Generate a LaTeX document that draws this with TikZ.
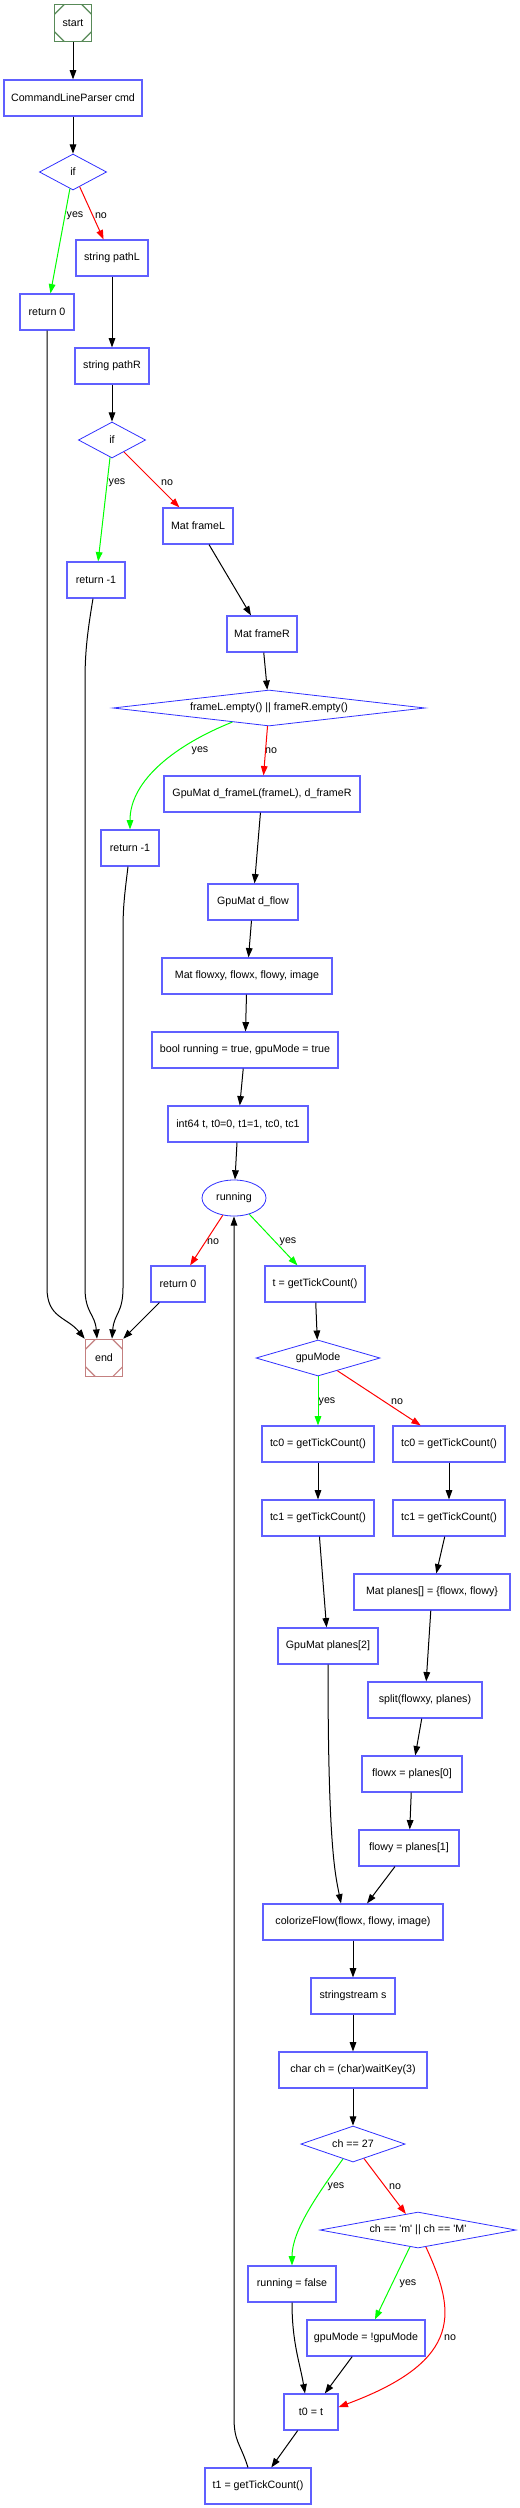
\documentclass[tikz,border=0pt]{standalone}
\usepackage{fontspec}
\setmainfont{Liberation Sans}
\usetikzlibrary{shapes.geometric,arrows.meta}
\definecolor{boxblue}{RGB}{96,96,255}
\definecolor{dmdblue}{RGB}{48,48,255}
\definecolor{startgreen}{RGB}{88,138,88}
\definecolor{endrose}{RGB}{196,128,128}

\begin{document}
\begin{tikzpicture}[x=0.75pt, y=-0.75pt,
    every node/.style={font=\fontsize{8pt}{9.6pt}\selectfont},
    box/.style={draw=boxblue, line width=0.9pt, rectangle, minimum height=27pt, inner sep=0pt},
    cond/.style={draw=dmdblue, line width=0.6pt, diamond, aspect=8, minimum height=27pt, inner sep=0pt},
    loopcond/.style={draw=dmdblue, line width=0.6pt, ellipse, minimum width=48pt, minimum height=27pt, inner sep=0pt},
    term/.style={draw=#1, line width=0.9pt, rectangle, minimum size=28pt, inner sep=0pt,
        path picture={
            \draw[#1] ([yshift=-7.5pt]path picture bounding box.north west) -- ([xshift=7.5pt]path picture bounding box.north west);
            \draw[#1] ([xshift=-7.5pt]path picture bounding box.north east) -- ([yshift=-7.5pt]path picture bounding box.north east);
            \draw[#1] ([yshift=7.5pt]path picture bounding box.south west) -- ([xshift=7.5pt]path picture bounding box.south west);
            \draw[#1] ([xshift=-7.5pt]path picture bounding box.south east) -- ([yshift=7.5pt]path picture bounding box.south east);
        }},
    arr/.style={-{Triangle[length=7pt,width=5pt]}, line width=0.75pt},
    yesarr/.style={arr, green},
    noarr/.style={arr, red},
    lbl/.style={inner sep=0pt}]
    \useasboundingbox (0,0) rectangle (520,2508);

    % setup
    \node[term=startgreen] (start) at (73,23) {start};
    \node[box, minimum width=103.5pt] (cmd) at (73,98) {CommandLineParser cmd};
    \node[cond, minimum width=40pt] (if1) at (73,172) {if};
    \node[box, minimum width=40.5pt] (ret0a) at (47,312) {return 0};
    \node[box, minimum width=54pt] (pathL) at (112,258) {string pathL};
    \node[box, minimum width=55.5pt] (pathR) at (112,366) {string pathR};
    \node[cond, minimum width=40.5pt] (if2) at (112,440) {if};
    \node[box, minimum width=43.5pt] (ret1a) at (96,580) {return -1};
    \node[box, minimum width=52.5pt] (frameL) at (198,526) {Mat frameL};
    \node[box, minimum width=52.5pt] (frameR) at (262,634) {Mat frameR};
    \node[cond, minimum width=234pt] (empty) at (269,708) {frameL.empty() || frameR.empty()};
    \node[box, minimum width=43.5pt] (ret1b) at (130,848) {return -1};
    \node[box, minimum width=147pt] (dframes) at (262,794) {GpuMat d\_frameL(frameL), d\_frameR};
    \node[box, minimum width=67.5pt] (dflow) at (253,902) {GpuMat d\_flow};
    \node[box, minimum width=127.5pt] (mats) at (247,976) {Mat flowxy, flowx, flowy, image};
    \node[box, minimum width=139.5pt] (flags) at (245,1050) {bool running = true, gpuMode = true};
    \node[box, minimum width=105pt] (ticks) at (238,1124) {int64 t, t0=0, t1=1, tc0, tc1};

    % main loop
    \node[loopcond] (running) at (234,1198) {running};
    \node[box, minimum width=40.5pt] (ret0b) at (178,1284) {return 0};
    \node[term=endrose] (endn) at (104,1358) {end};
    \node[box, minimum width=75pt] (tnow) at (315,1284) {t = getTickCount()};
    \node[cond, minimum width=78.75pt] (gpumode) at (318,1358) {gpuMode};
    \node[box, minimum width=84pt] (gtc0) at (318,1444) {tc0 = getTickCount()};
    \node[box, minimum width=84pt] (gtc1) at (318,1518) {tc1 = getTickCount()};
    \node[box, minimum width=75pt] (gplanes) at (328,1646) {GpuMat planes[2]};
    \node[box, minimum width=84pt] (ctc0) at (449,1444) {tc0 = getTickCount()};
    \node[box, minimum width=84pt] (ctc1) at (449,1518) {tc1 = getTickCount()};
    \node[box, minimum width=117pt] (cplanes) at (432,1592) {Mat planes[] = \{flowx, flowy\}};
    \node[box, minimum width=85.5pt] (split) at (425,1700) {split(flowxy, planes)};
    \node[box, minimum width=75pt] (flowx) at (412,1774) {flowx = planes[0]};
    \node[box, minimum width=75pt] (flowy) at (409,1848) {flowy = planes[1]};
    \node[box, minimum width=135pt] (colorize) at (353,1922) {colorizeFlow(flowx, flowy, image)};
    \node[box, minimum width=63pt] (sstream) at (353,1996) {stringstream s};
    \node[box, minimum width=111pt] (key) at (353,2070) {char ch = (char)waitKey(3)};
    \node[cond, minimum width=76.5pt] (esc) at (353,2144) {ch == 27};
    \node[cond, minimum width=147pt] (mkey) at (418,2230) {ch == \textquotesingle m\textquotesingle{} || ch == \textquotesingle M\textquotesingle};
    \node[box, minimum width=66pt] (stop) at (292,2284) {running = false};
    \node[box, minimum width=88.5pt] (toggle) at (366,2338) {gpuMode = !gpuMode};
    \node[box, minimum width=40.5pt] (t0) at (311,2412) {t0 = t};
    \node[box, minimum width=79.5pt] (t1) at (258,2486) {t1 = getTickCount()};

    % branch labels
    \node[lbl] (yes1) at (75,216) {yes};
    \node[lbl] (no1) at (101,216) {no};
    \node[lbl] (yes2) at (117,483) {yes};
    \node[lbl] (no2) at (167,483) {no};
    \node[lbl] (yes3) at (200,751) {yes};
    \node[lbl] (no3) at (271,751) {no};
    \node[lbl] (no4) at (213,1242) {no};
    \node[lbl] (yes4) at (288,1242) {yes};
    \node[lbl] (yes5) at (327,1402) {yes};
    \node[lbl] (no5) at (397,1402) {no};
    \node[lbl] (yes6) at (336,2187) {yes};
    \node[lbl] (no6) at (395,2187) {no};
    \node[lbl] (yes7) at (408,2284) {yes};
    \node[lbl] (no7) at (450,2338) {no};

    % bends
    \coordinate (bendA) at (47,1288);
    \coordinate (bendB1) at (85,680);
    \coordinate (bendB2) at (85,1288);
    \coordinate (bendC1) at (123,930);
    \coordinate (bendC2) at (123,1288);
    \coordinate (loopbend) at (234,2417);

    % edges
    \draw[arr] (start) -- (cmd);
    \draw[arr] (cmd) -- (if1);
    \draw[yesarr] (if1) -- (ret0a);
    \draw[noarr] (if1) -- (pathL);
    \draw[arr] (pathL) -- (pathR);
    \draw[arr] (pathR) -- (if2);
    \draw[yesarr] (if2) -- (ret1a);
    \draw[noarr] (if2) -- (frameL);
    \draw[arr] (frameL) -- (frameR);
    \draw[arr] (frameR) -- (empty);
    \draw[yesarr] (empty.201) .. controls +(-55,22) and +(0,-50) .. (ret1b.north);
    \draw[noarr] (empty) -- (dframes);
    \draw[arr] (dframes) -- (dflow);
    \draw[arr] (dflow) -- (mats);
    \draw[arr] (mats) -- (flags);
    \draw[arr] (flags) -- (ticks);
    \draw[arr] (ticks) -- (running);
    \draw[noarr] (running) -- (ret0b);
    \draw[yesarr] (running) -- (tnow);
    \draw[arr] (tnow) -- (gpumode);
    \draw[yesarr] (gpumode) -- (gtc0);
    \draw[noarr] (gpumode) -- (ctc0);
    \draw[arr] (gtc0) -- (gtc1);
    \draw[arr] (gtc1) -- (gplanes);
    \draw[arr] (ctc0) -- (ctc1);
    \draw[arr] (ctc1) -- (cplanes);
    \draw[arr] (cplanes) -- (split);
    \draw[arr] (split) -- (flowx);
    \draw[arr] (flowx) -- (flowy);
    \draw[arr] (gplanes.south) .. controls +(0,180) and +(-6,-30) .. ([xshift=-9pt]colorize.north);
    \draw[arr] (flowy) -- (colorize);
    \draw[arr] (colorize) -- (sstream);
    \draw[arr] (sstream) -- (key);
    \draw[arr] (key) -- (esc);
    \draw[yesarr] (esc.236) .. controls +(-25,35) and +(0,-35) .. (stop.north);
    \draw[noarr] (esc) -- (mkey);
    \draw[yesarr] (mkey) -- (toggle);
    \draw[noarr] (mkey.295) .. controls +(29,63) and +(127,-47) .. ([yshift=3.75pt]t0.east);
    \draw[arr] (stop.south) .. controls +(0,40) and +(-5,-30) .. ([xshift=-4.5pt]t0.north);
    \draw[arr] (toggle) -- (t0);
    \draw[arr] (t0) -- (t1);
    \draw[arr] ([xshift=-7.5pt]t1.north) .. controls +(-8,-25) and +(0,25) .. (loopbend) -- (running);

    % returns into end
    \draw[arr] (ret0a) -- (bendA) .. controls +(0,30) and +(-18,-22) .. (endn.north west);
    \draw[arr] ([xshift=-2.25pt]ret1a.south) .. controls +(-5,30) and +(0,-30) .. (bendB1) -- (bendB2) .. controls +(0,25) and +(-2,-25) .. ([xshift=-5.25pt]endn.north);
    \draw[arr] ([xshift=-1.5pt]ret1b.south) .. controls +(-3,25) and +(0,-25) .. (bendC1) -- (bendC2) .. controls +(0,25) and +(2,-25) .. ([xshift=6pt]endn.north);
    \draw[arr] (ret0b) -- (endn);
\end{tikzpicture}
\end{document}
